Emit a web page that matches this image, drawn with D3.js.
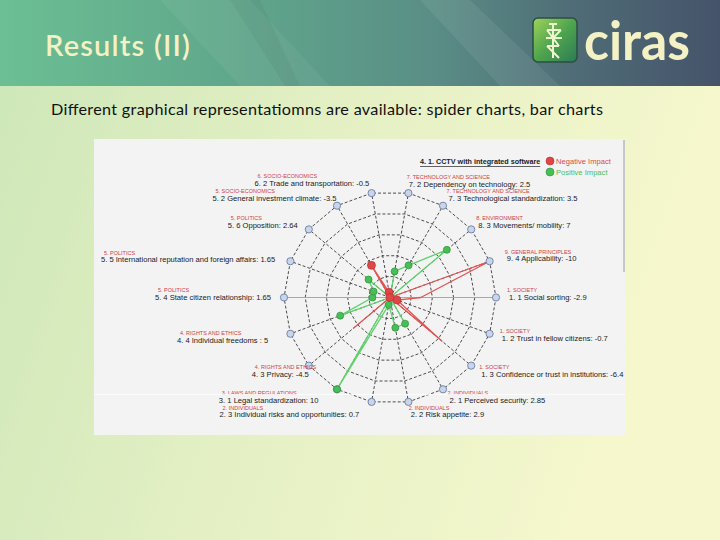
<!DOCTYPE html>
<html><head><meta charset="utf-8">
<script src="https://cdn.jsdelivr.net/npm/d3@7"></script>
<style>html,body{margin:0;padding:0;overflow:hidden;background:#fff}svg{display:block}</style>
</head><body>
<svg id="c" width="720" height="540"></svg>
<script>
// ---------- DATA ----------
const slideTitle = "Results (II)";
const slideSubtitle = "Different graphical representatiomns are available: spider charts, bar charts";
const chartTitle = "4. 1. CCTV with integrated software";
const seriesNames = ["Negative Impact", "Positive Impact"];
const axisIds = ["1.1","1.2","1.3","2.1","2.2","2.3","3.1","4.3","4.4","5.4","5.5","5.6","5.2","6.2","7.2","7.3","8.3","9.4"];
const axisNames = ["Social sorting","Trust in fellow citizens","Confidence or trust in institutions","Perceived security","Risk appetite","Individual risks and opportunities","Legal standardization","Privacy","Individual freedoms ","State citizen relationship","International reputation and foreign affairs","Opposition","General investment climate","Trade and transportation","Dependency on technology","Technological standardization","Movements/ mobility","Applicability"];
const axisCategories = ["1. SOCIETY","1. SOCIETY","1. SOCIETY","2. INDIVIDUALS","2. INDIVIDUALS","2. INDIVIDUALS","3. LAWS AND REGULATIONS","4. RIGHTS AND ETHICS","4. RIGHTS AND ETHICS","5. POLITICS","5. POLITICS","5. POLITICS","5. SOCIO-ECONOMICS","6. SOCIO-ECONOMICS","7. TECHNOLOGY AND SCIENCE","7. TECHNOLOGY AND SCIENCE","8. ENVIRONMENT","9. GENERAL PRINCIPLES"];
const impactValues = [-2.9,-0.7,-6.4,2.85,2.9,0.7,10,-4.5,5,1.65,1.65,2.64,-3.5,-0.5,2.5,3.5,7,-10];
const negativeMarkedAxes = ["1.2","5.2","6.2"];
const ringTicks = [2,4,6,8,10];

// ---------- LAYOUT ----------
const W = 720, H = 540;
const svg = d3.select("#c");
const defs = svg.append("defs");

const bgG = defs.append("linearGradient").attr("id","bg").attr("x1","0").attr("y1","0").attr("x2","1").attr("y2","0.25");
[["0","#cde7b8"],["0.5","#e4f0c4"],["1","#f6f7cd"]].forEach(s=>bgG.append("stop").attr("offset",s[0]).attr("stop-color",s[1]));
svg.append("rect").attr("width",W).attr("height",H).attr("fill","url(#bg)");

const hdG = defs.append("linearGradient").attr("id","hd").attr("x1","0").attr("y1","0").attr("x2","1").attr("y2","0");
[["0","#6bbf93"],["0.35","#5fa58b"],["0.6","#5a8e86"],["0.8","#4f6c76"],["1","#45536a"]].forEach(s=>hdG.append("stop").attr("offset",s[0]).attr("stop-color",s[1]));
svg.append("rect").attr("width",W).attr("height",86).attr("fill","url(#hd)");
svg.append("polygon").attr("points","160,0 250,0 330,86 240,86").attr("fill","#ffffff").attr("opacity",0.05);
svg.append("polygon").attr("points","420,0 470,0 560,86 500,86").attr("fill","#ffffff").attr("opacity",0.07);
svg.append("polygon").attr("points","230,0 260,0 300,86 285,86").attr("fill","#000000").attr("opacity",0.04);

svg.append("text").attr("x",45).attr("y",56).text(slideTitle)
  .attr("font-family","Lato, 'Open Sans', sans-serif").attr("font-size",29).attr("font-weight",600)
  .attr("letter-spacing",1.2)
  .attr("fill","#f4f1c4");

// logo
const lg = defs.append("linearGradient").attr("id","lg").attr("x1","0").attr("y1","0").attr("x2","1").attr("y2","1");
[["0","#9fd35a"],["0.5","#4fa54e"],["1","#2c7a56"]].forEach(s=>lg.append("stop").attr("offset",s[0]).attr("stop-color",s[1]));
svg.append("rect").attr("x",533).attr("y",18).attr("width",44).attr("height",44).attr("rx",5)
  .attr("fill","url(#lg)").attr("stroke","#2d4d45").attr("stroke-width",1.5);
const ic = svg.append("g").attr("stroke","#eef3d0").attr("stroke-width",2).attr("fill","none");
ic.append("path").attr("d","M553,24 L553,58 M547,30 L561,30 M546,38 L562,38 M547,46 L559,46 M549,24 L557,24 M547,30 L553,38 L559,46 M561,30 L553,38 M547,46 L553,52 L559,58");
svg.append("text").attr("x",584).attr("y",60).text("ciras")
  .attr("font-family","Lato, sans-serif").attr("font-size",54).attr("font-weight","bold")
  .attr("textLength",106).attr("lengthAdjust","spacingAndGlyphs")
  .attr("fill","#f4f1c4");

svg.append("text").attr("x",51).attr("y",115).text(slideSubtitle)
  .attr("font-family","Lato, sans-serif").attr("font-size",16.2).attr("fill","#111")
  .attr("textLength",552).attr("lengthAdjust","spacing");

// chart panel
svg.append("rect").attr("x",94).attr("y",139).attr("width",531).attr("height",296).attr("fill","#f3f3f3");
svg.append("line").attr("x1",624).attr("x2",624).attr("y1",140).attr("y2",272).attr("stroke","#9a9a9a").attr("stroke-width",1);

const cx = 390, cy = 297.5, R = 106;
const rScale = d3.scaleLinear().domain([0,10]).range([0,R]);
const n = axisIds.length;
const ang = d3.scaleLinear().domain([0,n]).range([0,2*Math.PI]);
const pt = (i,v)=>[cx + rScale(v)*Math.cos(ang(i)), cy + rScale(v)*Math.sin(ang(i))];

const g = svg.append("g");
// rings
ringTicks.forEach(t=>{
  g.append("path").attr("d", d3.line().curve(d3.curveLinearClosed)(d3.range(n).map(i=>pt(i,t))))
    .attr("fill","none").attr("stroke","#222").attr("stroke-width",0.8).attr("stroke-dasharray","3,2");
});
// spokes
d3.range(n).forEach(i=>{
  const [x,y] = pt(i,10);
  const horiz = Math.abs(Math.sin(ang(i)))<1e-6;
  g.append("line").attr("x1",cx).attr("y1",cy).attr("x2",x).attr("y2",y)
    .attr("stroke",horiz?"#a8a8a8":"#222").attr("stroke-width",horiz?1:0.8)
    .attr("stroke-dasharray",horiz?null:"3,2");
});

const negVals = impactValues.map(v=>v<0?-v:0);
const posVals = impactValues.map(v=>v>0?v:0);
const line = d3.line().curve(d3.curveLinearClosed);
g.append("path").attr("d", line(posVals.map((v,i)=>pt(i,v))))
  .attr("fill","none").attr("stroke","#5fd26c").attr("stroke-width",1.3).attr("stroke-linejoin","round");
g.append("path").attr("d", line(negVals.map((v,i)=>pt(i,v))))
  .attr("fill","none").attr("stroke","#e05454").attr("stroke-width",1.3).attr("stroke-linejoin","round");

// axis markers
d3.range(n).forEach(i=>{
  const [x,y] = pt(i,10);
  g.append("circle").attr("cx",x).attr("cy",y).attr("r",3.6)
    .attr("fill","#c8d5ea").attr("stroke","#6c7ea2").attr("stroke-width",0.9);
});
// dots
posVals.forEach((v,i)=>{ if(v>0){ const [x,y]=pt(i,v);
  g.append("circle").attr("cx",x).attr("cy",y).attr("r",3.5).attr("fill","#46c055").attr("stroke","#2f8c3b").attr("stroke-width",0.7);} });
negVals.forEach((v,i)=>{ if(v>0 && negativeMarkedAxes.includes(axisIds[i])){ const [x,y]=pt(i,v);
  g.append("circle").attr("cx",x).attr("cy",y).attr("r",4).attr("fill","#e04646").attr("stroke","#b53030").attr("stroke-width",0.7);} });
g.append("circle").attr("cx",cx).attr("cy",cy).attr("r",4).attr("fill","#e04646").attr("stroke","#b53030").attr("stroke-width",0.7);

// faint scan line across the chart image
svg.append("line").attr("x1",94).attr("x2",625).attr("y1",394.5).attr("y2",394.5).attr("stroke","#ffffff").attr("stroke-width",1).attr("opacity",0.8);

// labels
const labelFont = "'Liberation Sans', Arial, sans-serif";
const nudge = {"2.3":[-10,0],"3.1":[-12,0],"4.3":[10,0],"4.4":[-10,2],"5.2":[6,4],"5.5":[-3,3],"5.6":[-1,4],"7.2":[-2,4],"7.3":[-1,4],"8.3":[-3,4],"9.4":[5,2],"6.2":[0,3]};
d3.range(n).forEach(i=>{
  const a = ang(i), c = Math.cos(a), s = Math.sin(a);
  const nd = nudge[axisIds[i]] || [0,0];
  const [mx,my] = pt(i,10);
  const x = mx + 13*c + nd[0], y = my + 13*s + nd[1];
  const anchor = c>=0 ? "start" : "end";
  const v = impactValues[i];
  const txt = axisIds[i].replace(".", ". ") + " " + axisNames[i] + ": " + v;
  const t = g.append("text").attr("x",x).attr("y",y).attr("dy","0.35em").attr("text-anchor",anchor)
    .attr("font-family",labelFont).attr("font-size",7.6).attr("fill","#1a1a1a").text(txt);
  const w = t.node().getComputedTextLength();
  const left = anchor==="start" ? x : x - w;
  g.append("text").attr("x",left + (c>=0?-2:3)).attr("y",y-7).attr("dy","0.35em")
    .attr("font-family",labelFont).attr("font-size",5.5).attr("fill","#d0403f").text(axisCategories[i]);
});

// legend
const lt = svg.append("text").attr("x",420).attr("y",164).text(chartTitle)
  .attr("font-family",labelFont).attr("font-size",7.2).attr("fill","#222").attr("font-weight","bold");
const lw = lt.node().getComputedTextLength();
svg.append("line").attr("x1",420).attr("x2",420+lw).attr("y1",166.5).attr("y2",166.5).attr("stroke","#222").attr("stroke-width",0.7);
const legColors = ["#e04646","#46c055"];
seriesNames.forEach((nm,k)=>{
  const y = 161 + k*11;
  svg.append("circle").attr("cx",550).attr("cy",y).attr("r",4).attr("fill",legColors[k]).attr("stroke",k? "#2f8c3b":"#b53030").attr("stroke-width",0.6);
  svg.append("text").attr("x",556).attr("y",y).attr("dy","0.35em").text(nm)
    .attr("font-family",labelFont).attr("font-size",7.6).attr("fill",k?"#4cc05a":"#e04a4a");
});
</script>
</body></html>
